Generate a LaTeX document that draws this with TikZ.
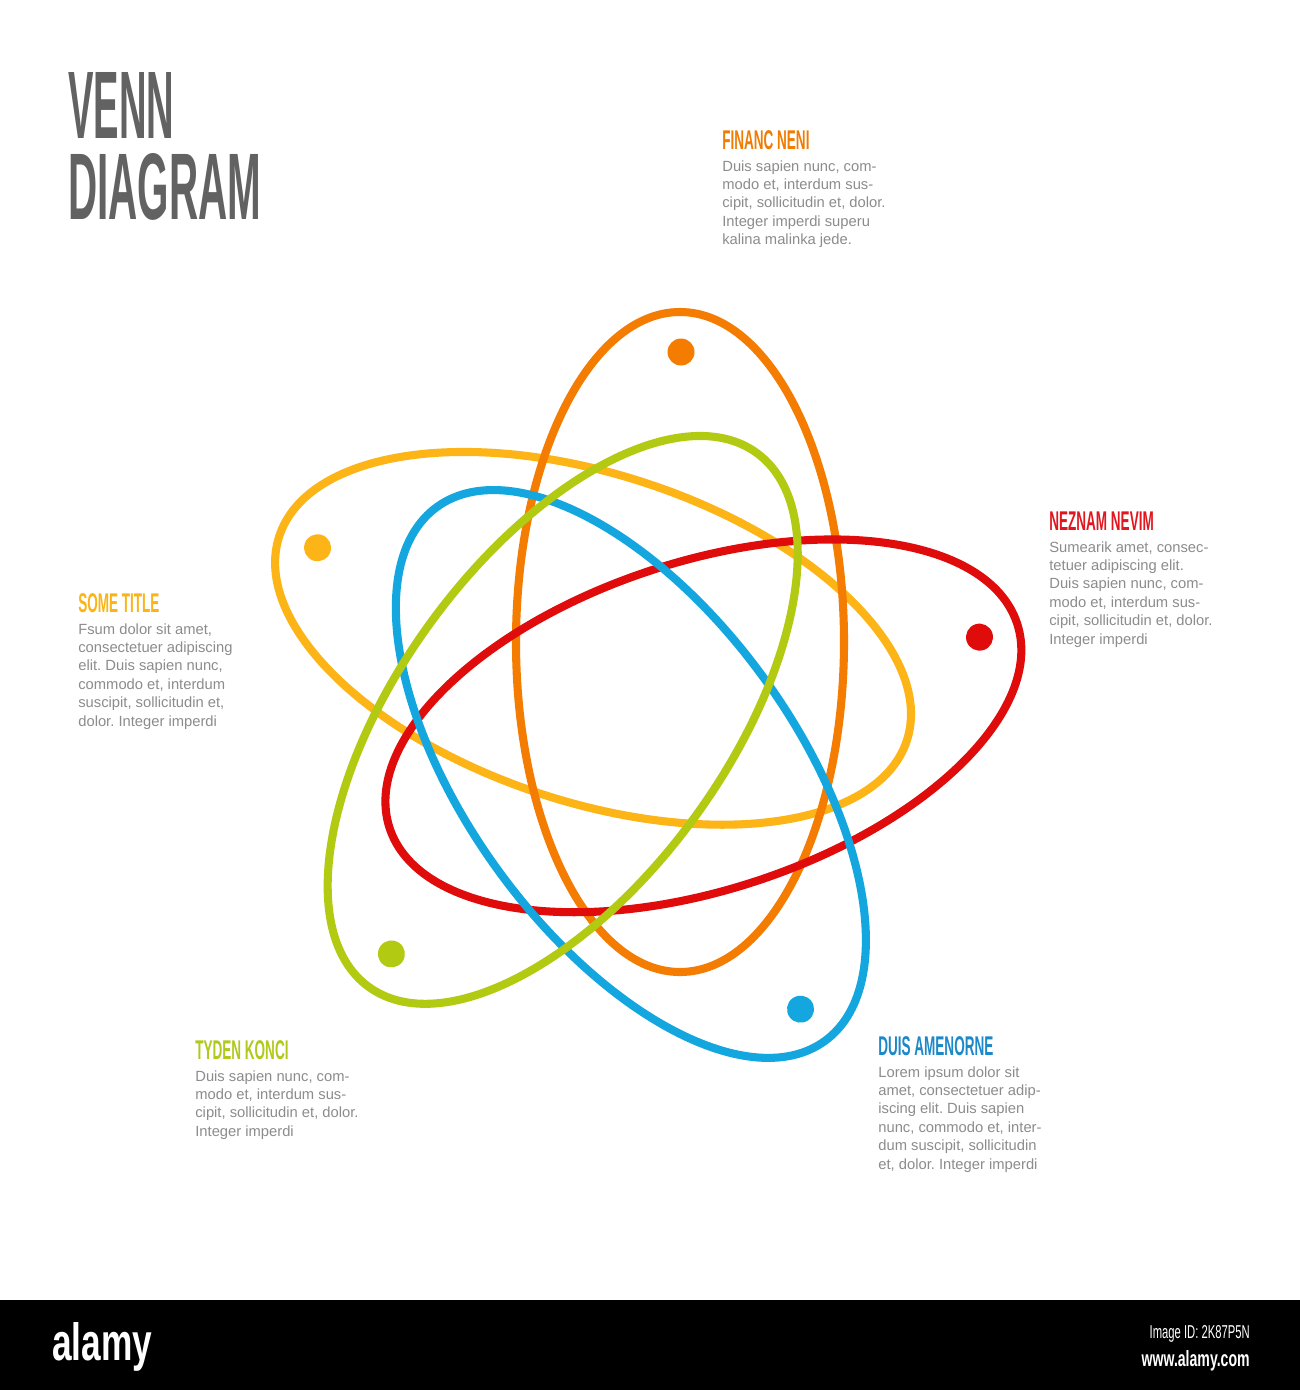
\documentclass[tikz,border=0pt]{standalone}
\usepackage{fontspec}
\setmainfont{Liberation Sans}
\newfontfamily\headfont{Liberation Sans}
\newlength{\px}
\setlength{\px}{0.02cm}
\definecolor{cora}{HTML}{F47C00}
\definecolor{cred}{HTML}{E00B0B}
\definecolor{cblu}{HTML}{14A7DF}
\definecolor{cgrn}{HTML}{B2CA11}
\definecolor{cyel}{HTML}{FDB416}
\definecolor{hora}{HTML}{F07C00}
\definecolor{hred}{HTML}{E2161E}
\definecolor{hblu}{HTML}{1A88C9}
\definecolor{hgrn}{HTML}{B2C81A}
\definecolor{hyel}{HTML}{FAB416}
\definecolor{titlegray}{HTML}{626262}
\definecolor{bodygray}{HTML}{8C8C8C}
\newcommand{\bodylines}[1]{\begin{tabular}[t]{@{}l@{}}#1\end{tabular}}
\newcommand{\headtext}[1]{\scalebox{0.5}[1]{#1}}
\tikzset{
  ring/.style={line width=4.6pt},
  titletext/.style={anchor=base west, inner sep=0pt, text=titlegray, font=\headfont\bfseries},
  headline/.style={anchor=base west, inner sep=0pt, font=\headfont\bfseries\fontsize{15.4}{18}\selectfont},
  bodyblock/.style={anchor=base west, inner sep=0pt, text=bodygray, font=\fontsize{8.4}{10.49}\selectfont\frenchspacing},
  marktext/.style={inner sep=0pt, text=white, font=\headfont\bfseries}
}
\begin{document}
\begin{tikzpicture}[x=0.02cm,y=-0.02cm]
\useasboundingbox (0,0) rectangle (1300,1390);
\fill[white] (0,0) rectangle (1300,1390);
\fill[black] (0,1300) rectangle (1300,1390);

% rings
\foreach \ang/\col in {72/cyel, 0/cora, 288/cred, 216/cblu, 144/cgrn} {
  \begin{scope}[rotate around={\ang:(634,700)}]
    \draw[ring, draw=\col] (680,642) ellipse [x radius=164, y radius=330];
    \fill[\col] (681,352) circle [radius=13.5];
  \end{scope}
}

% title
\node[titletext] (venn) at (68,138) {\resizebox{106\px}{66\px}{VENN}};
\node[titletext] (diagram) at (68,219) {\resizebox{193\px}{66\px}{DIAGRAM}};

% FINANC NENI
\node[headline, text=hora] (h1) at (722,149) {\headtext{FINANC NENI}};
\node[bodyblock] (b1) at (722,171) {\bodylines{Duis sapien nunc, com-\\modo et, interdum sus-\\cipit, sollicitudin et, dolor.\\Integer imperdi superu\\kalina malinka jede.}};

% NEZNAM NEVIM
\node[headline, text=hred] (h2) at (1049,530) {\headtext{NEZNAM NEVIM}};
\node[bodyblock] (b2) at (1049,552) {\bodylines{Sumearik amet, consec-\\tetuer adipiscing elit.\\Duis sapien nunc, com-\\modo et, interdum sus-\\cipit, sollicitudin et, dolor.\\Integer imperdi}};

% SOME TITLE
\node[headline, text=hyel] (h3) at (78,612) {\headtext{SOME TITLE}};
\node[bodyblock] (b3) at (78,634) {\bodylines{Fsum dolor sit amet,\\consectetuer adipiscing\\elit. Duis sapien nunc,\\commodo et, interdum\\suscipit, sollicitudin et,\\dolor. Integer imperdi}};

% TYDEN KONCI
\node[headline, text=hgrn] (h4) at (195,1059) {\headtext{TYDEN KONCI}};
\node[bodyblock] (b4) at (195,1081) {\bodylines{Duis sapien nunc, com-\\modo et, interdum sus-\\cipit, sollicitudin et, dolor.\\Integer imperdi}};

% DUIS AMENORNE
\node[headline, text=hblu] (h5) at (878,1055) {\headtext{DUIS AMENORNE}};
\node[bodyblock] (b5) at (878,1077) {\bodylines{Lorem ipsum dolor sit\\amet, consectetuer adip-\\iscing elit. Duis sapien\\nunc, commodo et, inter-\\dum suscipit, sollicitudin\\et, dolor. Integer imperdi}};

% watermark bar
\node[marktext, anchor=base west] (alamy) at (52,1360) {\resizebox{100\px}{38\px}{alamy}};
\node[marktext, anchor=base east, font=\headfont] (imgid) at (1250,1338) {\resizebox{100\px}{13\px}{Image ID: 2K87P5N}};
\node[marktext, anchor=base east] (www) at (1250,1366) {\resizebox{108\px}{16\px}{www.alamy.com}};
\end{tikzpicture}
\end{document}
